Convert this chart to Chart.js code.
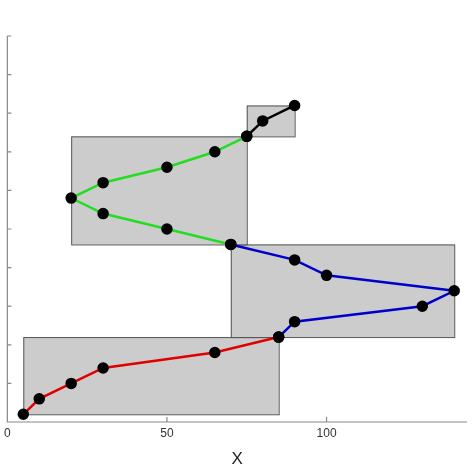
<!DOCTYPE html>
<html><head><script src="https://cdn.jsdelivr.net/npm/chart.js@4"></script>
<style>html,body{margin:0;padding:0;background:#fff}#c{display:block}</style></head>
<body><div style="width:474px;height:474px"><canvas id="c"></canvas></div>
<script>
const redX=[5,10,20,30,65,85], redY=[0.2,0.6,1.0,1.4,1.8,2.2];
const blueX=[85,90,130,140,100,90,70], blueY=[2.2,2.6,3.0,3.4,3.8,4.2,4.6];
const greenX=[70,50,30,20,30,50,65,75], greenY=[4.6,5.0,5.4,5.8,6.2,6.6,7.0,7.4];
const blackX=[75,80,90], blackY=[7.4,7.8,8.2];
const boxes=[[5,85,0.2,2.2],[70,140,2.2,4.6],[20,75,4.6,7.4],[75,90,7.4,8.2]];
const xTicks=[0,50,100];
function pts(xs,ys){return xs.map((x,i)=>({x,y:ys[i]}));}
function ds(xs,ys,col,first){return {data:pts(xs,ys),showLine:true,borderColor:col,borderWidth:2.5,
 pointBackgroundColor:'#000',pointBorderColor:'#000',pointRadius:4.5,pointHoverRadius:4.5};}
const boxPlugin={id:'boxes',beforeDatasetsDraw(ch){const c=ch.ctx,x=ch.scales.x,y=ch.scales.y;c.save();
 boxes.forEach(b=>{const x0=x.getPixelForValue(b[0]),x1=x.getPixelForValue(b[1]),y0=y.getPixelForValue(b[3]),y1=y.getPixelForValue(b[2]);
 c.fillStyle='#cccccc';c.fillRect(x0,y0,x1-x0,y1-y0);c.strokeStyle='#555';c.lineWidth=1;c.strokeRect(x0+.5,y0+.5,x1-x0,y1-y0);});
 c.restore();},
 afterDraw(ch){const c=ch.ctx,x=ch.scales.x,y=ch.scales.y,a=ch.chartArea;c.save();c.strokeStyle='#888';c.lineWidth=1.2;
 c.beginPath();c.moveTo(a.left,a.top);c.lineTo(a.left,a.bottom);c.lineTo(a.right,a.bottom);
 for(let v=1;v<=10;v++){const p=y.getPixelForValue(v);c.moveTo(a.left,p);c.lineTo(a.left+4,p);}
 xTicks.forEach(v=>{const p=x.getPixelForValue(v);c.moveTo(p,a.bottom);c.lineTo(p,a.bottom-5);});
 c.stroke();c.restore();}};
new Chart(document.getElementById('c'),{type:'scatter',
 data:{datasets:[ds(redX,redY,'#e00000'),ds(blueX,blueY,'#0000cc'),ds(greenX,greenY,'#22dd22'),ds(blackX,blackY,'#000')]},
 options:{responsive:true,maintainAspectRatio:false,animation:false,clip:false,
  layout:{padding:{top:36,left:3,right:0,bottom:0}},
  plugins:{legend:{display:false},tooltip:{enabled:false}},
  scales:{
   x:{min:0,max:144,afterBuildTicks(s){s.ticks=xTicks.map(v=>({value:v}));},
    grid:{display:false,drawTicks:false},border:{display:false},
    ticks:{color:'#333',font:{family:'Liberation Sans',size:12},padding:4,maxRotation:0},
    title:{display:true,text:'X',color:'#222',font:{family:'Liberation Sans',size:17},padding:{top:6}},
    afterFit(s){s.height=52;}},
   y:{min:0,max:10,grid:{display:false,drawTicks:false},border:{display:false},ticks:{display:false},afterFit(s){s.width=1;}}
  }},plugins:[boxPlugin]});
</script></body></html>
